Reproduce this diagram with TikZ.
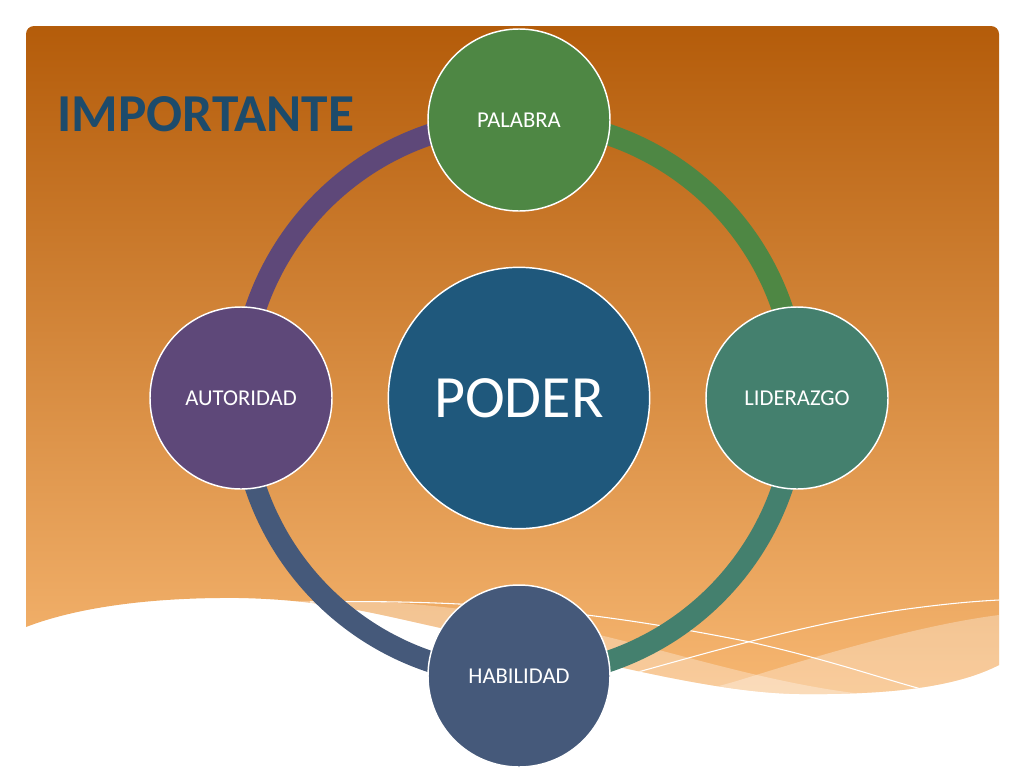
\documentclass[tikz,border=0pt]{standalone}
\usepackage{fontspec}
\setmainfont{Carlito}
\usepackage{tikz}
\usetikzlibrary{backgrounds}

\definecolor{bgtop}{RGB}{180,92,10}
\definecolor{bgbot}{RGB}{247,183,114}
\definecolor{titleblue}{RGB}{29,75,107}
\definecolor{palgreen}{RGB}{78,135,68}
\definecolor{lidteal}{RGB}{68,128,110}
\definecolor{habslate}{RGB}{69,89,122}
\definecolor{autpurple}{RGB}{94,72,121}
\definecolor{poderblue}{RGB}{31,88,124}

\tikzset{
  item/.style={circle,draw=white,line width=1.1pt,minimum size=136.5pt,inner sep=0pt,
    text=white,font=\fontsize{17}{20}\selectfont},
  hub/.style={item,minimum size=196pt,font=\fontsize{45}{50}\selectfont},
  ring/.style={line width=16pt}
}

\begin{document}
\begin{tikzpicture}[x=0.75pt,y=0.75pt,yscale=-1,xscale=1]
  \useasboundingbox (0,0) rectangle (1024,768);

  \begin{pgfonlayer}{background}
    %Shape: orange slide with wavy lower edge
    \shade[top color=bgtop,bottom color=bgbot]
      [rounded corners=6] (26,627) -- (26,26) -- (999,26) [sharp corners] -- (999,665)
      .. controls (960,685) and (900,695) .. (800,694)
      .. controls (700,693) and (560,650) .. (450,630)
      .. controls (380,615) and (330,600) .. (240,598)
      .. controls (140,597) and (70,610) .. (26,627) -- cycle;

    \begin{scope}
      \clip (26,627) -- (26,26) -- (999,26) -- (999,665)
        .. controls (960,685) and (900,695) .. (800,694)
        .. controls (700,693) and (560,650) .. (450,630)
        .. controls (380,615) and (330,600) .. (240,598)
        .. controls (140,597) and (70,610) .. (26,627) -- cycle;
      %Shape: pale bands
      \fill[white,opacity=0.3] (300,601) .. controls (420,598) and (520,615) .. (620,640)
        .. controls (700,660) and (780,685) .. (870,695) -- (870,760) -- (300,760) -- cycle;
      \fill[white,opacity=0.3] (999,615) .. controls (920,625) and (820,655) .. (740,680)
        .. controls (700,692) and (660,700) .. (620,705) -- (620,760) -- (999,760) -- cycle;
      %Curve Lines
      \draw[white,line width=0.8pt] (310,602) .. controls (480,599) and (600,612) .. (750,642)
        .. controls (830,660) and (880,678) .. (925,690);
      \draw[white,line width=0.8pt] (620,677) .. controls (700,655) and (800,625) .. (900,610)
        .. controls (950,603) and (980,601) .. (999,600);
    \end{scope}
  \end{pgfonlayer}

  % Text Node
  \node[anchor=base west,inner sep=0pt,text=titleblue,font=\fontsize{40}{44}\selectfont\bfseries] (title) at (57,131) {IMPORTANTE};

  % Circle Nodes
  \node[hub,fill=poderblue] (poder) at (519,398) {PODER};
  \node[item,fill=palgreen] (palabra) at (519,120) {PALABRA};
  \node[item,fill=lidteal] (liderazgo) at (797,398) {LIDERAZGO};
  \node[item,fill=habslate] (habilidad) at (519,676) {HABILIDAD};
  \node[item,fill=autpurple] (autoridad) at (241,398) {AUTORIDAD};

  \begin{pgfonlayer}{background}
    %Arcs of the cycle
    \draw[ring,palgreen] (palabra.center) to[out=0,in=-90] (liderazgo.center);
    \draw[ring,lidteal] (liderazgo.center) to[out=90,in=0] (habilidad.center);
    \draw[ring,habslate] (habilidad.center) to[out=180,in=90] (autoridad.center);
    \draw[ring,autpurple] (autoridad.center) to[out=-90,in=180] (palabra.center);
  \end{pgfonlayer}
\end{tikzpicture}
\end{document}
